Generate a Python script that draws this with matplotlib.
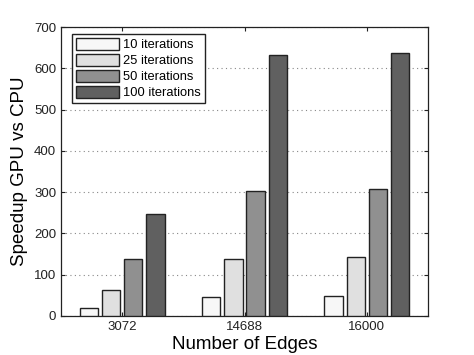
import matplotlib
matplotlib.use("Agg")
import matplotlib.pyplot as plt
import numpy as np

plt.rcParams['font.family'] = ['Liberation Sans', 'DejaVu Sans']

categories = ["3072", "14688", "16000"]
series_names = ["10 iterations", "25 iterations", "50 iterations", "100 iterations"]
it10 = [19, 46, 49]
it25 = [64, 139, 144]
it50 = [137, 302, 307]
it100 = [248, 631, 638]
series = [it10, it25, it50, it100]
colors = ["#f7f7f7", "#e0e0e0", "#909090", "#606060"]

fig = plt.figure(figsize=(4.74, 3.55), dpi=100)
ax = fig.add_axes([61/474, 1 - 316/355, (428-61)/474, (316-27)/355])

x = np.arange(1, len(categories) + 1)
width = 0.15
offsets = [-0.273, -0.091, 0.091, 0.273]
for vals, off, c, name in zip(series, offsets, colors, series_names):
    ax.bar(x + off, vals, width, color=c, edgecolor="#222222", linewidth=1.0, label=name, zorder=3)

ax.set_xlim(0.5, 3.5)
ax.set_ylim(0, 700)
ax.set_yticks(range(0, 701, 100))
ax.set_xticks(x)
ax.set_xticklabels(categories)
ax.grid(axis='y', linestyle=(0, (1, 3)), color="#888888", linewidth=0.8, zorder=0)
ax.tick_params(direction='in', top=True, right=True, labelsize=9.5, length=3, colors="#222222")
for s in ax.spines.values():
    s.set_linewidth(0.9)
    s.set_color("#222222")
ax.set_xlabel("Number of Edges", fontsize=13.5, labelpad=2)
ax.set_ylabel("Speedup GPU vs CPU", fontsize=13.5, labelpad=4)
leg = ax.legend(loc='upper left', fontsize=9.3, fancybox=False, framealpha=1,
                edgecolor="#222222", handlelength=3.3, handleheight=1.05,
                bbox_to_anchor=(11/367, 1 - 7/289), borderaxespad=0,
                labelspacing=0.2, handletextpad=0.35, borderpad=0.3)
leg.get_frame().set_linewidth(1.0)
fig.savefig("out.png", dpi=100)
